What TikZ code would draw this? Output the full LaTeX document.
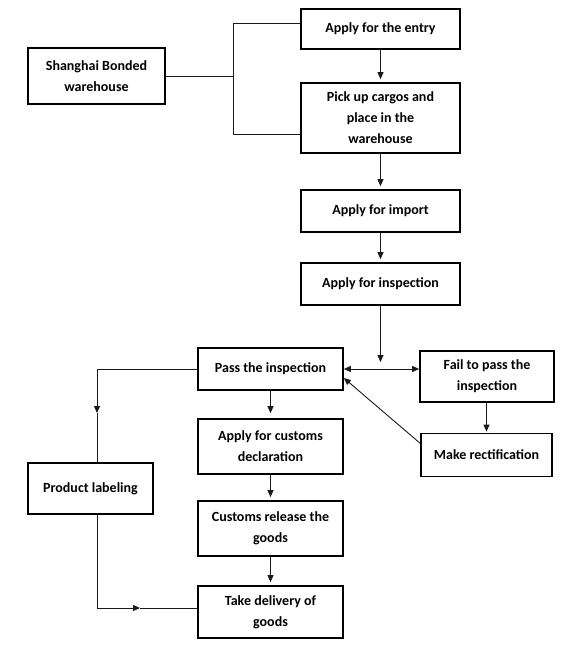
\documentclass[tikz,border=0pt]{standalone}
\usepackage{fontspec}
\setmainfont{Carlito}
\usepackage{xcolor}
\usepackage{tikz}
\usetikzlibrary{arrows.meta,positioning}
\definecolor{linegray}{HTML}{1A1A1A}
\tikzset{
  box/.style={draw=black, line width=1.7pt, fill=white, align=center, inner sep=2pt},
  line/.style={draw=linegray, line width=0.9pt},
  arrow/.style={-{Triangle[length=7pt,width=6pt]}, line width=0.9pt, draw=linegray},
  twoway/.style={{Triangle[length=7pt,width=6pt]}-{Triangle[length=7pt,width=6pt]}, line width=0.9pt, draw=linegray}
}

\begin{document}
\begin{tikzpicture}[x=1pt, y=-1pt, font=\fontsize{14}{21}\selectfont\bfseries]
  \useasboundingbox (0,0) rectangle (583,656);

  \node[box, minimum width=159pt, minimum height=40pt] (entry) at (380.5,29) {Apply for the entry};
  \node[box, minimum width=137pt, minimum height=56pt] (shanghai) at (96.5,76) {Shanghai Bonded\\warehouse};
  \node[box, minimum width=159pt, minimum height=70pt] (pickup) at (380.5,118) {Pick up cargos and\\place in the\\warehouse};
  \node[box, minimum width=159pt, minimum height=42pt] (import) at (380.5,211) {Apply for import};
  \node[box, minimum width=159pt, minimum height=42pt] (inspect) at (380.5,284) {Apply for inspection};
  \node[box, minimum width=145pt, minimum height=42pt] (pass) at (270.5,369) {Pass the inspection};
  \node[box, minimum width=134pt, minimum height=51pt] (fail) at (487,376.5) {Fail to pass the\\inspection};
  \node[box, minimum width=131pt, minimum height=43pt] (rectify) at (486.5,455) {Make rectification};
  \node[box, minimum width=145pt, minimum height=55pt] (customs) at (270.5,446.5) {Apply for customs\\declaration};
  \node[box, minimum width=125pt, minimum height=51pt] (labeling) at (90.5,488.5) {Product labeling};
  \node[box, minimum width=145pt, minimum height=55pt] (release) at (270.5,528.5) {Customs release the\\goods};
  \node[box, minimum width=145pt, minimum height=52pt] (delivery) at (270.5,612) {Take delivery of\\goods};

  % bracket from the warehouse
  \coordinate (jtop) at (233,23);
  \coordinate (jbot) at (233,134);
  \draw[line] (shanghai.east) -- (shanghai.east -| jtop);
  \draw[line] (entry.west |- jtop) -- (jtop) -- (jbot) -- (pickup.west |- jbot);

  % main column
  \draw[arrow, shorten >=3pt] (entry) -- (pickup);
  \draw[arrow, shorten >=3pt] (pickup) -- (import);
  \draw[arrow, shorten >=3pt] (import) -- (inspect);
  \coordinate (drop) at (380.5,362);
  \draw[arrow] (inspect.south) -- (drop);
  \draw[twoway] (pass.east) -- (pass.east -| fail.west);
  \draw[arrow, shorten >=1pt] (fail.south -| rectify.north) -- (rectify.north);
  \draw[arrow] (rectify.170) -- (pass.-7);
  \draw[arrow, shorten >=5pt] (pass) -- (customs);
  \draw[arrow, shorten >=3pt] (customs) -- (release);
  \draw[arrow, shorten >=3pt] (release) -- (delivery);

  % side branch
  \coordinate (lmid) at (97,413);
  \coordinate (lbot) at (97,608);
  \coordinate (bmid) at (140,608);
  \draw[arrow] (pass.west) -| (lmid);
  \draw[line] (lmid) -- (lmid |- labeling.north);
  \draw[line] (lmid |- labeling.south) -- (lbot);
  \draw[arrow] (lbot) -- (bmid);
  \draw[line] (bmid) -- (bmid -| delivery.west);
\end{tikzpicture}
\end{document}
